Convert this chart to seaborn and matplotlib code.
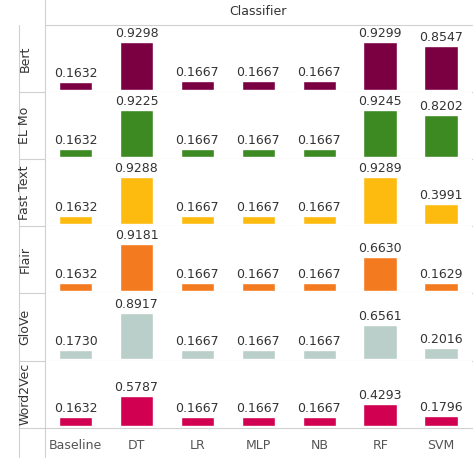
import numpy as np
import pandas as pd
import seaborn as sns
import matplotlib.pyplot as plt

classifiers = ['Baseline', 'DT', 'LR', 'MLP', 'NB', 'RF', 'SVM']
embeddings = ['Bert', 'EL Mo', 'Fast Text', 'Flair', 'GloVe', 'Word2Vec']
colors = ['#7b0041', '#3d8a23', '#fdbb10', '#f47a20', '#bacfc9', '#d20050']

bert = [0.1632, 0.9298, 0.1667, 0.1667, 0.1667, 0.9299, 0.8547]
elmo = [0.1632, 0.9225, 0.1667, 0.1667, 0.1667, 0.9245, 0.8202]
fasttext = [0.1632, 0.9288, 0.1667, 0.1667, 0.1667, 0.9289, 0.3991]
flair = [0.1632, 0.9181, 0.1667, 0.1667, 0.1667, 0.6630, 0.1629]
glove = [0.1730, 0.8917, 0.1667, 0.1667, 0.1667, 0.6561, 0.2016]
word2vec = [0.1632, 0.5787, 0.1667, 0.1667, 0.1667, 0.4293, 0.1796]
scores = [bert, elmo, fasttext, flair, glove, word2vec]

sns.set_style('white')
plt.rcParams['font.family'] = ['DejaVu Sans']

fig = plt.figure(figsize=(4.74, 4.71), dpi=100)
left, right, top, bottom = 0.095, 0.995, 0.947, 0.092
h = (top - bottom) / 6
grey = '#d0d0d0'
txt = '#333333'

for i, (name, vals, col) in enumerate(zip(embeddings, scores, colors)):
    ax = fig.add_axes([left, top - (i + 1) * h, right - left, h])
    df = pd.DataFrame({'clf': classifiers, 'score': vals})
    sns.barplot(data=df, x='clf', y='score', color=col, width=0.55, ax=ax, saturation=1)
    ax.set_ylim(-0.04, 1.27)
    ax.set_xlim(-0.5, 6.5)
    for j, v in enumerate(vals):
        ax.text(j, v + 0.04, f'{v:.4f}', ha='center', va='bottom', fontsize=9, color=txt)
    ax.set_yticks([])
    ax.set_ylabel('')
    ax.set_xlabel('')
    for s in ['top', 'right', 'left']:
        ax.spines[s].set_visible(False)
    ax.spines['bottom'].set_color(grey)
    ax.spines['bottom'].set_linewidth(0.8)
    if i < 5:
        ax.set_xticks([])
    else:
        ax.tick_params(axis='x', length=0, labelsize=9, labelcolor='#555555', pad=8)
    fig.text(left / 2 + 0.005, top - (i + 0.5) * h, name, rotation=90, ha='center', va='center',
             fontsize=9, color=txt)
    fig.add_artist(plt.Line2D([0.04, left], [top - (i + 1) * h] * 2, color=grey, lw=0.8))

fig.text((left + right) / 2, 0.975, 'Classifier', ha='center', va='center', fontsize=9, color=txt)
fig.add_artist(plt.Line2D([left, right], [top, top], color=grey, lw=0.8))
fig.add_artist(plt.Line2D([left, left], [0.03, 1.0], color=grey, lw=0.8))
fig.add_artist(plt.Line2D([0.04, 0.04], [0.03, top], color=grey, lw=0.8))

fig.savefig('out.png', dpi=100)
